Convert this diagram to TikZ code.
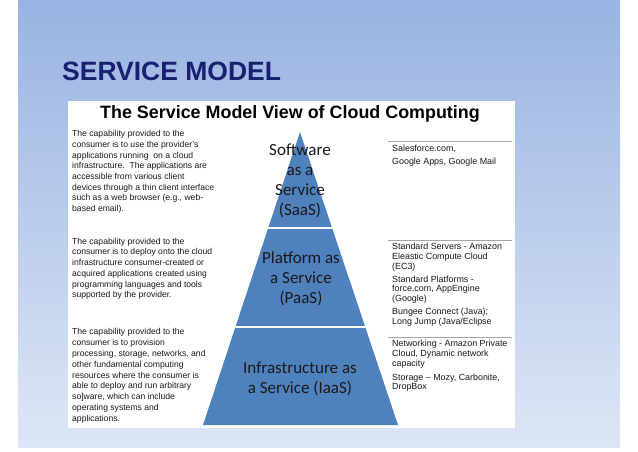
\documentclass[tikz,border=0pt]{standalone}
\usepackage{fontspec}
\setmainfont{Liberation Sans}
\newfontfamily\calib{Carlito}
\definecolor{slidetop}{RGB}{152,179,226}
\definecolor{slidebot}{RGB}{221,230,245}
\definecolor{navy}{RGB}{26,32,112}
\definecolor{pyr}{RGB}{79,129,189}
\definecolor{txt}{RGB}{25,25,25}
\definecolor{sep}{RGB}{165,165,165}
\tikzset{
  lefttext/.style={anchor=north west, inner sep=0pt, align=left, text=txt, font=\fontsize{8.6}{10.7}\selectfont},
  righttext/.style={anchor=north west, inner sep=0pt, align=left, text=txt, font=\fontsize{8.9}{9.9}\selectfont},
  pyrtext/.style={anchor=north, inner sep=0pt, align=center, text=black!90, font=\calib\fontsize{17}{20}\selectfont},
  sepline/.style={draw=sep, line width=0.9pt},
}
\begin{document}
\begin{tikzpicture}[x=1pt,y=-1pt]
\useasboundingbox (0,0) rectangle (638,451);
\fill[white] (0,0) rectangle (638,451);
\shade[top color=slidetop, bottom color=slidebot] (18,0) rectangle (620,447);

\node[anchor=base west, inner sep=0pt, text=navy, font=\bfseries\fontsize{26.5}{30}\selectfont] (title) at (62,80) {SERVICE MODEL};

\node[fill=white, draw=none, anchor=north west, inner sep=0pt, minimum width=447pt, minimum height=327pt] (pic) at (68,101) {};

\node[anchor=base, inner sep=0pt, font=\bfseries\fontsize{17.9}{20}\selectfont] (head) at (290,118.5) {The Service Model View of Cloud Computing};

% pyramid
\fill[pyr] (300,132) -- (398,425) -- (203,425) -- cycle;
\begin{scope}
\clip (300,132) -- (398,425) -- (203,425) -- cycle;
\draw[white, line width=2pt] (190,228) -- (410,228);
\draw[white, line width=2pt] (190,327) -- (410,327);
\end{scope}

\node[pyrtext] (saas) at (300,143.5) {Software\\as a\\Service\\(SaaS)};
\node[pyrtext] (paas) at (301,251.5) {Platform as\\a Service\\(PaaS)};
\node[pyrtext] (iaas) at (300,361.5) {Infrastructure as\\a Service (IaaS)};

% left descriptions
\node[lefttext] (l1) at (72,130.3) {The capability provided to the\\consumer is to use the provider’s\\applications running\ \ on a cloud\\infrastructure.\ \ The applications are\\accessible from various client\\devices through a thin client interface\\such as a web browser (e.g., web-\\based email).};
\node[lefttext] (l2) at (72,237.8) {The capability provided to the\\consumer is to deploy onto the cloud\\infrastructure consumer-created or\\acquired applications created using\\programming languages and tools\\supported by the provider.};
\node[lefttext, font=\fontsize{8.6}{10.95}\selectfont] (l3) at (72,327.8) {The capability provided to the\\consumer is to provision\\processing, storage, networks, and\\other fundamental computing\\resources where the consumer is\\able to deploy and run arbitrary\\so]ware, which can include\\operating systems and\\applications.};

% right examples
\draw[sepline] (388,141) -- (512,141);
\draw[sepline] (388,240) -- (512,240);
\draw[sepline] (388,337.5) -- (512,337.5);
\node[righttext] (r1) at (392,145) {Salesforce.com,\\[3pt]Google Apps, Google Mail};
\node[righttext] (r2) at (392,242.7) {Standard Servers - Amazon\\Eleastic Compute Cloud\\(EC3)\\[3pt]Standard Platforms -\\force.com, AppEngine\\(Google)\\[3pt]Bungee Connect (Java);\\Long Jump (Java/Eclipse};
\node[righttext] (r3) at (392,340.2) {Networking - Amazon Private\\Cloud, Dynamic network\\capacity\\[3.5pt]Storage – Mozy, Carbonite,\\DropBox};
\end{tikzpicture}
\end{document}
